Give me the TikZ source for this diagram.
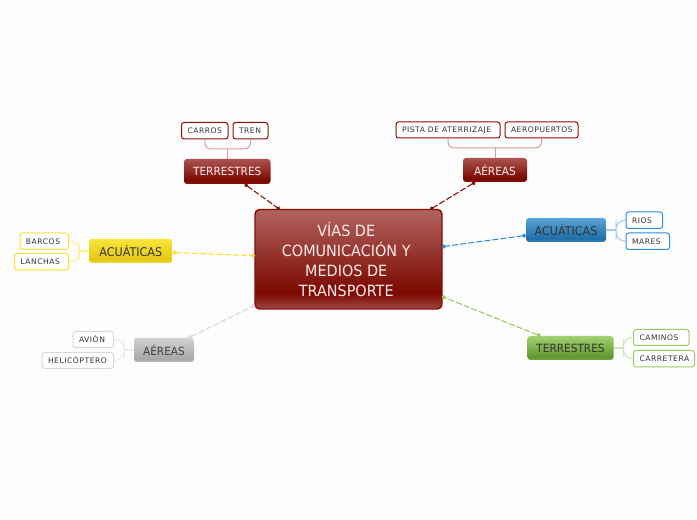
\documentclass[tikz,border=0pt]{standalone}
\usepackage{fontspec}
\usetikzlibrary{arrows.meta,calc}
\newfontfamily\mainfnt{DejaVu Sans}[FakeStretch=0.93]
\newfontfamily\lblfnt{DejaVu Sans}[LetterSpace=7]
\definecolor{bgc}{HTML}{FDFDFD}
\definecolor{redc}{HTML}{8A0D08}
\definecolor{redl}{HTML}{D99C9A}
\definecolor{yelc}{HTML}{FFE135}
\definecolor{yell}{HTML}{FFEE98}
\definecolor{grac}{HTML}{D8D8D8}
\definecolor{gral}{HTML}{EBEBEB}
\definecolor{bluc}{HTML}{2F8FD8}
\definecolor{blul}{HTML}{9CCBEE}
\definecolor{grec}{HTML}{9ACB62}
\definecolor{grel}{HTML}{CFE6B4}
\definecolor{ca}{HTML}{A04844}\definecolor{cb}{HTML}{7A0800}\definecolor{cc}{HTML}{B26460}
\definecolor{ra}{HTML}{87140F}\definecolor{rc}{HTML}{AC5450}
\definecolor{ya}{HTML}{F0DC46}\definecolor{yb}{HTML}{E6C814}\definecolor{yc}{HTML}{F8E43C}
\definecolor{ga}{HTML}{B9B9B9}\definecolor{gb}{HTML}{A8A8AA}\definecolor{gc}{HTML}{D2D2D2}
\definecolor{ba}{HTML}{3C82B4}\definecolor{bb}{HTML}{1E6EA8}\definecolor{bc}{HTML}{5AA5D8}
\definecolor{ea}{HTML}{73A546}\definecolor{eb}{HTML}{5F9830}\definecolor{ec}{HTML}{A5D070}
\pgfdeclareverticalshading{redcentral}{100bp}{color(0bp)=(ca);color(25bp)=(ca);color(33bp)=(cb);color(75bp)=(cc);color(100bp)=(cc)}
\pgfdeclareverticalshading{redbar}{100bp}{color(0bp)=(ra);color(25bp)=(ra);color(32bp)=(cb);color(75bp)=(rc);color(100bp)=(rc)}
\pgfdeclareverticalshading{yelbar}{100bp}{color(0bp)=(ya);color(25bp)=(ya);color(32bp)=(yb);color(75bp)=(yc);color(100bp)=(yc)}
\pgfdeclareverticalshading{grabar}{100bp}{color(0bp)=(ga);color(25bp)=(ga);color(32bp)=(gb);color(75bp)=(gc);color(100bp)=(gc)}
\pgfdeclareverticalshading{blubar}{100bp}{color(0bp)=(ba);color(25bp)=(ba);color(32bp)=(bb);color(75bp)=(bc);color(100bp)=(bc)}
\pgfdeclareverticalshading{grebar}{100bp}{color(0bp)=(ea);color(25bp)=(ea);color(32bp)=(eb);color(75bp)=(ec);color(100bp)=(ec)}
\tikzset{
 x=0.75pt,y=-0.75pt,
 barbox/.style={shade,rounded corners=2.2pt,inner sep=0pt,outer sep=0pt,font=\mainfnt\fontsize{8.5}{11}\selectfont,draw=none},
 widebar/.style={barbox,font=\mainfnt\fontsize{9}{11}\selectfont},
 wbox/.style={draw=#1,fill=white,line width=0.75pt,rounded corners=1.9pt,inner sep=0pt,outer sep=0pt,text=black!80,font=\lblfnt\fontsize{5.7}{7}\selectfont},
 conn/.style={draw=#1,line width=0.8pt,dash pattern=on 4.5pt off 1.6pt,{Circle[length=3pt,width=3pt,fill=#1]}-{Circle[length=3pt,width=3pt,fill=#1]}},
 brk/.style={draw=#1,line width=0.75pt,rounded corners=4.5pt},
 sidebrk/.style={draw=#1,line width=0.75pt,rounded corners=7pt},
 stem/.style={draw=#1,line width=0.75pt},
 sidestem/.style={draw=#1,line width=1pt},
}
\newcommand{\boxat}[7]{% name,x1,y1,x2,y2,style,text
 \node[#6,minimum width=#4*0.75pt-#2*0.75pt,minimum height=#5*0.75pt-#3*0.75pt] (#1) at ({(#2+#4)/2},{(#3+#5)/2}) {#7};}
\newcommand{\leafat}[7]{% left-aligned text, 6px padding
 \node[#6,minimum width=#4*0.75pt-#2*0.75pt,minimum height=#5*0.75pt-#3*0.75pt] (#1) at ({(#2+#4)/2},{(#3+#5)/2}) {\makebox[\dimexpr #4pt*3/4-#2pt*3/4-9pt\relax][l]{\raisebox{-0.5pt}{#7}}};}
\begin{document}
\begin{tikzpicture}
\useasboundingbox[fill=bgc] (0,0) rectangle (697,520);
% central
\boxat{central}{255}{209.5}{442}{309}{shade,shading=redcentral,draw=redc,line width=1.1pt,rounded corners=3.5pt,inner sep=0pt,outer sep=0pt,text=white!92!red,font=\mainfnt\fontsize{11.6}{15.1}\selectfont}{\raisebox{-2.2pt}[\height][\depth]{\begin{tabular}{@{}c@{}}VÍAS DE\\COMUNICACIÓN Y\\MEDIOS DE\\TRANSPORTE\end{tabular}}\hspace*{3.4pt}}
% branches
\boxat{tl}{184}{159}{270.5}{184}{barbox,shading=redbar,text=white!92!red}{\raisebox{-0.7pt}{TERRESTRES}}
\boxat{ar}{463}{158}{527}{182}{barbox,shading=redbar,text=white!92!red}{AÉREAS}
\boxat{ql}{89}{239}{172.5}{263}{widebar,shading=yelbar,text=black!80}{ACUÁTICAS}
\boxat{al}{134}{338}{194}{362}{barbox,shading=grabar,text=black!75}{AÉREAS}
\boxat{qr}{526}{218}{606}{242}{widebar,shading=blubar,text=black!80}{ACUÁTICAS}
\boxat{tr}{527.5}{336}{613.5}{360}{barbox,shading=grebar,text=black!80}{TERRESTRES}
% leaves
\leafat{carros}{181.5}{122.5}{228}{139}{wbox=redc}{CARROS}
\leafat{tren}{233}{122.5}{268}{139}{wbox=redc}{TREN}
\leafat{pista}{396}{122}{500}{138}{wbox=redc}{PISTA DE ATERRIZAJE}
\leafat{aero}{505}{122}{578}{138}{wbox=redc}{AEROPUERTOS}
\leafat{barcos}{20}{233}{68.5}{249.5}{wbox=yelc}{BARCOS}
\leafat{lanchas}{14.5}{253.5}{68.5}{270}{wbox=yelc}{LANCHAS}
\leafat{avion}{73}{331.5}{113.5}{347.5}{wbox=grac}{AVIÓN}
\leafat{heli}{42}{352.5}{113.5}{368.5}{wbox=grac}{HELICÓPTERO}
\leafat{rios}{626}{212}{662.5}{228.5}{wbox=bluc}{RIOS}
\leafat{mares}{626}{233}{669.5}{249.5}{wbox=bluc}{MARES}
\leafat{caminos}{633.5}{329.5}{689}{345.5}{wbox=grec}{CAMINOS}
\leafat{carretera}{633.5}{350.5}{694.5}{367}{wbox=grec}{CARRETERA}
% connectors
\draw[conn=redc] (tl) -- (central);
\draw[conn=redc] (ar) -- (central);
\draw[conn=yelc] (ql) -- (central);
\draw[conn=grac] (al) -- (central);
\draw[conn=bluc] (qr) -- (central);
\draw[conn=grec] (tr) -- (central);
% junctions
\coordinate (jtl) at ($(tl.north)+(0,-10)$);
\coordinate (jar) at ($(ar.north)+(0,-10)$);
\coordinate (jql) at ($(ql.west)+(-10,0)$);
\coordinate (jal) at ($(al.west)+(-10,0)$);
\coordinate (jqr) at ($(qr.east)+(10,0)$);
\coordinate (jtr) at ($(tr.east)+(10,0)$);
% brackets
\draw[brk=redl] (carros.south) |- (jtl) -| (tren.south);
\draw[stem=redl] (jtl) -- (tl.north);
\draw[brk=redl] (pista.south) |- (jar) -| (aero.south);
\draw[stem=redl] (jar) -- (ar.north);
\draw[sidebrk=yell] (barcos.east) -| (jql) |- (lanchas.east);
\draw[sidestem=yell] (jql) -- (ql.west);
\draw[sidebrk=gral] (avion.east) -| (jal) |- (heli.east);
\draw[sidestem=gral] (jal) -- (al.west);
\draw[sidebrk=blul] (rios.west) -| (jqr) |- (mares.west);
\draw[sidestem=blul] (jqr) -- (qr.east);
\draw[sidebrk=grel] (caminos.west) -| (jtr) |- (carretera.west);
\draw[sidestem=grel] (jtr) -- (tr.east);
\end{tikzpicture}
\end{document}
